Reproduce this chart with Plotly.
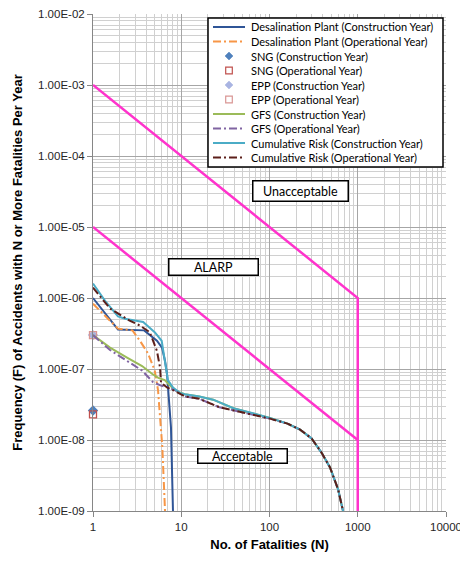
import math
import plotly.graph_objects as go

# ---- data ----
desal_con_n = [1, 1.92, 3.8, 5.3, 6.05, 6.55, 6.9, 7.1, 7.3, 7.45, 7.65, 8.06, 8.3]
desal_con_f = [1.0e-6, 3.6e-7, 3.5e-7, 2.5e-7, 2.0e-7, 1.3e-7, 8.5e-8, 5.5e-8, 3.6e-8, 2.3e-8, 1.5e-8, 1.0e-9, 5e-10]

desal_op_n = [1, 1.92, 2.8, 3.4, 4.2, 5.0, 5.45, 5.8, 6.1, 6.55, 6.7]
desal_op_f = [8.3e-7, 3.7e-7, 3.5e-7, 2.5e-7, 1.66e-7, 9.6e-8, 5.1e-8, 2.0e-8, 8e-9, 1.0e-9, 5e-10]

sng_con_n = [1]
sng_con_f = [2.6e-8]
sng_op_n = [1]
sng_op_f = [2.3e-8]

epp_con_n = [1]
epp_con_f = [3.0e-7]
epp_op_n = [1]
epp_op_f = [3.0e-7]

# tails shared by GFS and cumulative curves (N >= ~10)
tail_con_n = [11, 16, 23, 39, 60, 101, 160, 222, 300, 390, 485, 550, 600, 681, 700]
tail_con_f = [4.4e-8, 4.1e-8, 3.7e-8, 2.8e-8, 2.45e-8, 2.05e-8, 1.7e-8, 1.4e-8, 1.05e-8, 6.6e-9, 4.1e-9, 2.7e-9, 2.0e-9, 1.0e-9, 7e-10]
tail_op_n = [16, 27, 39, 84, 101, 160, 222, 300, 390, 485, 550, 600, 681, 700]
tail_op_f = [3.8e-8, 2.9e-8, 2.6e-8, 2.1e-8, 2.0e-8, 1.7e-8, 1.4e-8, 1.05e-8, 6.6e-9, 4.1e-9, 2.7e-9, 2.0e-9, 1.0e-9, 7e-10]

gfs_con_n = [1, 1.56, 2.43, 3.6, 4.7, 5.5, 6.5, 7.5, 9.0] + tail_con_n
gfs_con_f = [3.0e-7, 2.0e-7, 1.45e-7, 1.1e-7, 8.5e-8, 7.5e-8, 7.0e-8, 5.8e-8, 4.8e-8] + tail_con_f
gfs_op_n = [1, 1.56, 2.43, 3.6, 4.8, 6.0, 7.5, 9.2, 11] + tail_op_n
gfs_op_f = [3.0e-7, 1.85e-7, 1.3e-7, 9.5e-8, 6.5e-8, 5.8e-8, 5.4e-8, 4.8e-8, 4.1e-8] + tail_op_f

cum_con_n = [1, 1.37, 1.92, 2.3, 3.7, 5.0, 6.0, 6.55, 7.07, 8.06, 9.7] + tail_con_n
cum_con_f = [1.6e-6, 9.1e-7, 5.5e-7, 5.1e-7, 4.6e-7, 3.3e-7, 2.5e-7, 1.2e-7, 6.9e-8, 5.5e-8, 4.6e-8] + tail_con_f
cum_op_n = [1, 1.56, 2.6, 3.4, 4.4, 5.3, 5.75, 5.9, 6.9, 8.5, 11] + tail_op_n
cum_op_f = [1.4e-6, 7.1e-7, 4.8e-7, 4.1e-7, 3.3e-7, 1.8e-7, 1.05e-7, 6.4e-8, 5.5e-8, 4.9e-8, 4.1e-8] + tail_op_f

# tolerability criteria
crit_upper_n = [1, 1000, 1000]
crit_upper_f = [1e-3, 1e-6, 1e-9]
crit_lower_n = [1, 1000]
crit_lower_f = [1e-5, 1e-8]

region_labels = ["Unacceptable", "ALARP", "Acceptable"]
region_n = [224, 22.9, 50]
region_f = [3.2e-5, 2.7e-6, 6.0e-9]

x_tickvals = [1, 10, 100, 1000, 10000]
x_ticktext = ["1", "10", "100", "1000", "10000"]
y_tickvals = [1e-9, 1e-8, 1e-7, 1e-6, 1e-5, 1e-4, 1e-3, 1e-2]
y_ticktext = ["1.00E-09", "1.00E-08", "1.00E-07", "1.00E-06",
              "1.00E-05", "1.00E-04", "1.00E-03", "1.00E-02"]

DASHDOT = "8px,3px,2px,3px"
series = [
    dict(name="Desalination Plant (Construction Year)", n=desal_con_n, f=desal_con_f, kind="line", color="#2F5597", dash="solid"),
    dict(name="Desalination Plant (Operational Year)", n=desal_op_n, f=desal_op_f, kind="line", color="#F79646", dash=DASHDOT),
    dict(name="SNG (Construction Year)", n=sng_con_n, f=sng_con_f, kind="diamond", color="#4F81BD"),
    dict(name="SNG (Operational Year)", n=sng_op_n, f=sng_op_f, kind="square", color="#C0504D"),
    dict(name="EPP (Construction Year)", n=epp_con_n, f=epp_con_f, kind="diamond", color="#A9B4E2"),
    dict(name="EPP (Operational Year)", n=epp_op_n, f=epp_op_f, kind="square", color="#D99694"),
    dict(name="GFS (Construction Year)", n=gfs_con_n, f=gfs_con_f, kind="line", color="#9BBB59", dash="solid"),
    dict(name="GFS (Operational Year)", n=gfs_op_n, f=gfs_op_f, kind="line", color="#8064A2", dash=DASHDOT),
    dict(name="Cumulative Risk (Construction Year)", n=cum_con_n, f=cum_con_f, kind="line", color="#4BACC6", dash="solid"),
    dict(name="Cumulative Risk (Operational Year)", n=cum_op_n, f=cum_op_f, kind="line", color="#5C1F1A", dash=DASHDOT),
]

fig = go.Figure()

# criteria lines first so curves sit on top
for cn, cf in [(crit_upper_n, crit_upper_f), (crit_lower_n, crit_lower_f)]:
    fig.add_trace(go.Scatter(x=cn, y=cf, mode="lines", showlegend=False,
                             line=dict(color="#FF33CC", width=2.5), hoverinfo="skip"))

for s in series:
    if s["kind"] == "line":
        fig.add_trace(go.Scatter(x=s["n"], y=s["f"], mode="lines", name=s["name"], showlegend=False,
                                 line=dict(color=s["color"], width=2, dash=s["dash"])))
    elif s["kind"] == "diamond":
        fig.add_trace(go.Scatter(x=s["n"], y=s["f"], mode="markers", name=s["name"], showlegend=False,
                                 cliponaxis=False,
                                 marker=dict(symbol="diamond", size=8, color=s["color"])))
    else:
        fig.add_trace(go.Scatter(x=s["n"], y=s["f"], mode="markers", name=s["name"], showlegend=False,
                                 cliponaxis=False,
                                 marker=dict(symbol="square-open", size=7, color=s["color"],
                                             line=dict(width=1.3))))

# ---- legend drawn by hand (plotly's native rows are too tall here) ----
# plot-area edges in reference pixels, used to place the legend in paper units
L, R, T, B = 93, 446, 14, 511
PW, PH = R - L, B - T


def px(x):
    return (x - L) / PW


def py(y):
    return (B - y) / PH


shapes = [dict(type="rect", xref="paper", yref="paper", layer="above",
               x0=px(208), x1=px(443), y0=py(167), y1=py(18),
               fillcolor="white", line=dict(color="black", width=1.5))]
annotations = []
for i, s in enumerate(series):
    yc = 27 + 14.5 * i
    if s["kind"] == "line":
        shapes.append(dict(type="line", xref="paper", yref="paper", layer="above",
                           x0=px(213), x1=px(245), y0=py(yc), y1=py(yc),
                           line=dict(color=s["color"], width=2, dash=s["dash"])))
    elif s["kind"] == "diamond":
        cx, h = 229, 4
        path = "M {},{} L {},{} L {},{} L {},{} Z".format(
            px(cx), py(yc - h), px(cx + h), py(yc), px(cx), py(yc + h), px(cx - h), py(yc))
        shapes.append(dict(type="path", xref="paper", yref="paper", layer="above", path=path,
                           fillcolor=s["color"], line=dict(color=s["color"], width=0.5)))
    else:
        h = 3.3
        shapes.append(dict(type="rect", xref="paper", yref="paper", layer="above",
                           x0=px(229 - h), x1=px(229 + h), y0=py(yc + h), y1=py(yc - h),
                           fillcolor="white", line=dict(color=s["color"], width=1.2)))
    annotations.append(dict(text=s["name"], xref="paper", yref="paper", x=px(249), y=py(yc),
                            xanchor="left", yanchor="middle", showarrow=False,
                            font=dict(family="Lato", size=11, color="black")))

# region labels in boxes
box_w = [92, 86, 86]
box_h = [17, 13, 11]
for lab, rn, rf, w, h in zip(region_labels, region_n, region_f, box_w, box_h):
    annotations.append(dict(text=lab, x=math.log10(rn), y=math.log10(rf), xref="x", yref="y",
                            showarrow=False, width=w, height=h, borderpad=1,
                            bordercolor="black", borderwidth=1.5, bgcolor="white",
                            font=dict(family="Lato", size=12.5, color="black")))

axis_font = dict(family="Liberation Sans, Arial", size=11.5, color="#262626")
title_font = dict(family="Liberation Sans, Arial", size=13, color="black")

# the page body adds an 8px margin, so the figure is 8px smaller than the window
fig.update_layout(
    width=460, height=559,
    margin=dict(l=85, r=22, t=6, b=56),
    plot_bgcolor="white", paper_bgcolor="white",
    showlegend=False,
    shapes=shapes, annotations=annotations,
    xaxis=dict(type="log", range=[0, 4], tickvals=x_tickvals, ticktext=x_ticktext,
               automargin=False, ticklabeloverflow="allow",
               showgrid=True, gridcolor="#A6A6A6", gridwidth=1,
               minor=dict(dtick="D1", showgrid=True, gridcolor="#D0D0D0", ticks=""),
               showline=True, linecolor="#868686", linewidth=1,
               ticks="outside", ticklen=5, tickcolor="#868686",
               tickfont=axis_font, zeroline=False,
               title=dict(text="<b>No. of Fatalities (N)</b>", font=title_font, standoff=8)),
    yaxis=dict(type="log", range=[-9, -2], tickvals=y_tickvals, ticktext=y_ticktext,
               automargin=False, ticklabeloverflow="allow",
               showgrid=True, gridcolor="#A6A6A6", gridwidth=1,
               minor=dict(dtick="D1", showgrid=True, gridcolor="#D0D0D0", ticks=""),
               showline=True, linecolor="#868686", linewidth=1,
               ticks="outside", ticklen=5, tickcolor="#868686",
               tickfont=axis_font, zeroline=False,
               title=dict(text="<b>Frequency (F) of Accidents with N or More Fatalities Per Year</b>",
                          font=title_font, standoff=12)),
)

fig.write_html("out.html")
